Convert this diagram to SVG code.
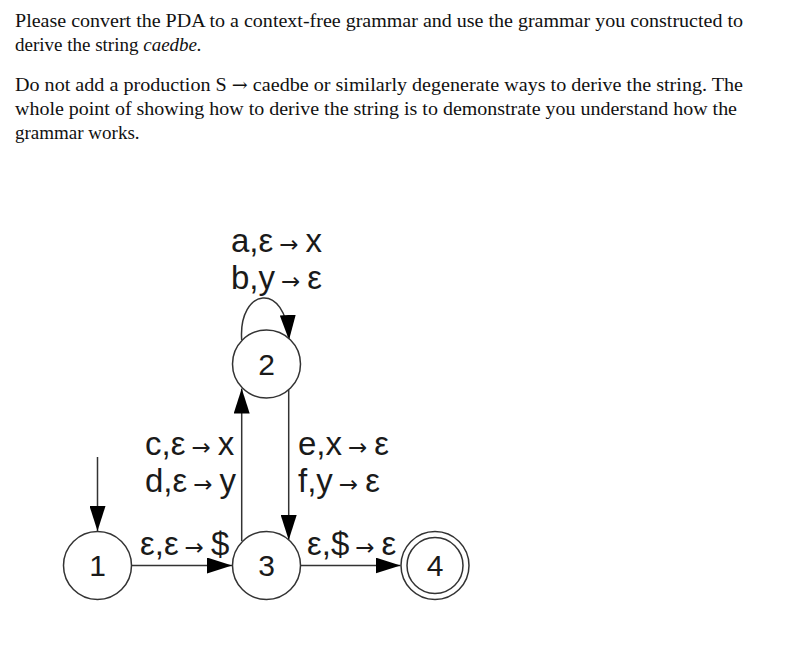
<svg xmlns="http://www.w3.org/2000/svg" width="807" height="652" viewBox="0 0 807 652">
<style>
.p{font-family:"Liberation Serif","Times New Roman",serif;font-size:19px;fill:#111}
.ps{font-family:"DejaVu Serif",serif;font-size:18px}
.l{font-family:"Liberation Sans",Arial,sans-serif;font-size:33px;fill:#1a1a1a}
.a{font-family:"DejaVu Sans",sans-serif;font-size:23px}
.s{fill:#fff;stroke:#333;stroke-width:1.5}
.e{fill:none;stroke:#333;stroke-width:1.5}
.n{font-family:"Liberation Sans",Arial,sans-serif;font-size:30px;fill:#1a1a1a;text-anchor:middle}
</style>
<defs>
<marker id="ah" markerWidth="25" markerHeight="16" refX="25" refY="8" orient="auto" markerUnits="userSpaceOnUse">
<path d="M0,0 L25,8 L0,16 Z" fill="#000"/>
</marker>
</defs>
<rect width="807" height="652" fill="#fff"/>
<g id="text">
<text class="p" x="15" y="27" textLength="728" lengthAdjust="spacingAndGlyphs">Please convert the PDA to a context-free grammar and use the grammar you constructed to</text>
<text class="p" x="15" y="51">derive the string <tspan font-style="italic">caedbe.</tspan></text>
<text class="p" x="15" y="91" textLength="728" lengthAdjust="spacingAndGlyphs">Do not add a production S <tspan class="ps">→</tspan> caedbe or similarly degenerate ways to derive the string. The</text>
<text class="p" x="15" y="115" textLength="722" lengthAdjust="spacingAndGlyphs">whole point of showing how to derive the string is to demonstrate you understand how the</text>
<text class="p" x="15" y="139">grammar works.</text>
</g>
<g id="connectors">
<path class="e" d="M97.5,457 L97.5,531" marker-end="url(#ah)"/>
<path class="e" d="M131.5,565.5 L232,565.5" marker-end="url(#ah)"/>
<path class="e" d="M300.5,565.5 L400.5,565.5" marker-end="url(#ah)"/>
<path class="e" d="M241.7,541 L241.7,388.5" marker-end="url(#ah)"/>
<path class="e" d="M288.7,389.5 L288.7,540" marker-end="url(#ah)"/>
<path class="e" d="M241.7,340 C238,288 286,280 289,340" marker-end="url(#ah)"/>
</g>
<g id="labels">
<text class="l" x="231" y="252">a,ε<tspan class="a" dx="6">→</tspan><tspan dx="7">x</tspan></text>
<text class="l" x="231" y="289">b,y<tspan class="a" dx="6">→</tspan><tspan dx="7">ε</tspan></text>
<text class="l" x="145" y="455">c,ε<tspan class="a" dx="6">→</tspan><tspan dx="7">x</tspan></text>
<text class="l" x="145" y="492">d,ε<tspan class="a" dx="6">→</tspan><tspan dx="7">y</tspan></text>
<text class="l" x="298" y="455">e,x<tspan class="a" dx="6">→</tspan><tspan dx="7">ε</tspan></text>
<text class="l" x="298" y="492">f,y<tspan class="a" dx="6">→</tspan><tspan dx="7">ε</tspan></text>
<text class="l" x="140" y="555">ε,ε<tspan class="a" dx="6">→</tspan><tspan dx="7">$</tspan></text>
<text class="l" x="307" y="555">ε,$<tspan class="a" dx="6">→</tspan><tspan dx="7">ε</tspan></text>
</g>
<g id="node1"><circle class="s" cx="97.5" cy="565.5" r="34"/><text class="n" x="97.5" y="576">1</text></g>
<g id="node2"><circle class="s" cx="266.5" cy="364" r="34"/><text class="n" x="266.5" y="375">2</text></g>
<g id="node3"><circle class="s" cx="266.5" cy="565.5" r="34"/><text class="n" x="266.5" y="576">3</text></g>
<g id="node4"><circle class="s" cx="435" cy="565.5" r="34"/><circle class="e" cx="435" cy="565.5" r="28"/><text class="n" x="435" y="576">4</text></g>
</svg>
